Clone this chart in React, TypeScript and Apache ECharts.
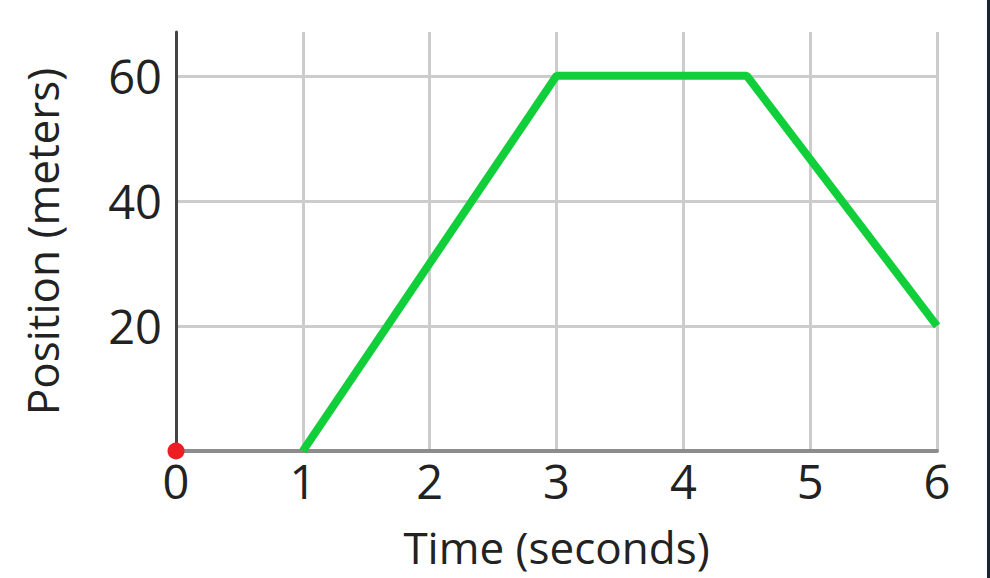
import React, { useEffect, useRef } from 'react';
import * as echarts from 'echarts';

// time (s) / position (m) points of the motion
const timeValues = [1, 3, 4.5, 6];
const positionValues = [0, 60, 60, 20];
// start marker
const startPoint = [0, 0];
const yTickLabels = [20, 40, 60];

const FONT = 'Open Sans';

const App: React.FC = () => {
  const chartRef = useRef<HTMLDivElement>(null);

  useEffect(() => {
    if (!chartRef.current) return;
    const chart = echarts.init(chartRef.current, undefined, { renderer: 'svg' });

    const lineData = timeValues.map((t, i) => [t, positionValues[i]]);

    chart.setOption({
      animation: false,
      backgroundColor: '#ffffff',
      grid: { left: 176, right: 53, top: 32, bottom: 127 },
      xAxis: {
        type: 'value',
        min: 0,
        max: 6,
        interval: 1,
        name: 'Time (seconds)',
        nameLocation: 'middle',
        nameGap: 74,
        nameTextStyle: { fontFamily: FONT, fontSize: 44, color: '#222' },
        axisLine: { show: true, onZero: false, lineStyle: { color: '#8c8c8c', width: 4 } },
        axisTick: { show: false },
        axisLabel: { fontFamily: FONT, fontSize: 47, color: '#222', margin: 6 },
        splitLine: { show: true, lineStyle: { color: '#cccccc', width: 3 } },
      },
      yAxis: {
        type: 'value',
        min: 0,
        max: 67,
        interval: 20,
        name: 'Position (meters)',
        nameLocation: 'middle',
        nameGap: 112,
        nameTextStyle: { fontFamily: FONT, fontSize: 44, color: '#222' },
        axisLine: { show: true, onZero: false, lineStyle: { color: '#444', width: 3 } },
        axisTick: { show: false },
        axisLabel: {
          fontFamily: FONT,
          fontSize: 47,
          color: '#222',
          margin: 14,
          formatter: (v: number) => (yTickLabels.includes(v) ? String(v) : ''),
        },
        splitLine: {
          show: true,
          lineStyle: {
            color: ['#cccccc', '#cccccc', '#cccccc', '#cccccc', 'rgba(0,0,0,0)'],
            width: 3,
          },
        },
      },
      series: [
        {
          type: 'line',
          data: lineData,
          symbol: 'none',
          lineStyle: { color: '#11cf3a', width: 8 },
          z: 3,
        },
        {
          type: 'scatter',
          data: [startPoint],
          symbolSize: 17,
          itemStyle: { color: '#ee1c25', opacity: 1 },
          clip: false,
          z: 5,
        },
      ],
      graphic: [
        {
          type: 'rect',
          right: 0,
          top: 0,
          shape: { width: 3, height: 578 },
          style: { fill: '#1a2530' },
        },
      ],
    });

    return () => {
      chart.dispose();
    };
  }, []);

  return (
    <div
      ref={chartRef}
      style={{ position: 'absolute', left: 0, top: 0, width: '990px', height: '578px' }}
    ></div>
  );
};

export default App;
